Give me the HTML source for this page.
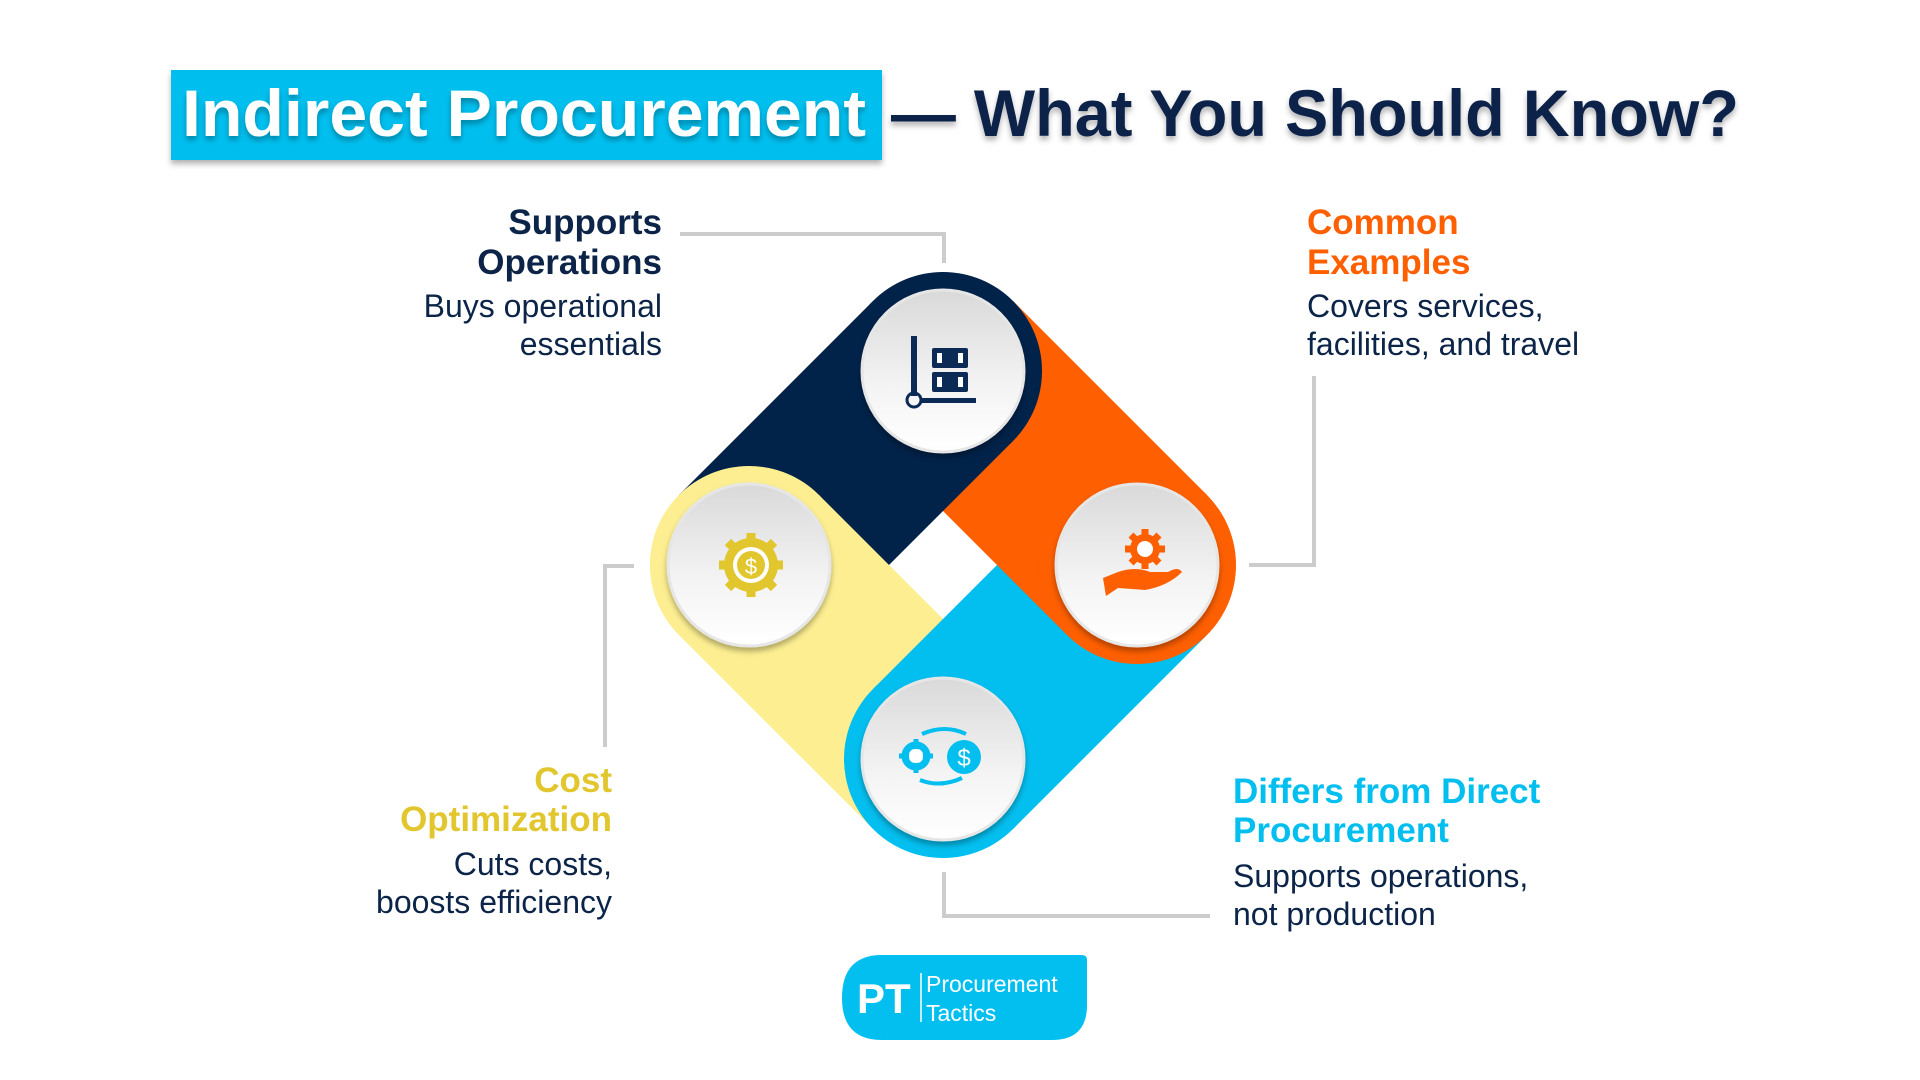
<!DOCTYPE html>
<html><head><meta charset="utf-8"><style>
html,body{margin:0;padding:0;background:#fff;}
svg{display:block;}
text{font-family:"Liberation Sans",sans-serif;}
</style></head><body>
<svg width="1920" height="1080" viewBox="0 0 1920 1080" xmlns="http://www.w3.org/2000/svg">
<defs>
<linearGradient id="cg" x1="0" y1="0" x2="0" y2="1">
<stop offset="0" stop-color="#d9d9d9"/><stop offset="0.6" stop-color="#f4f4f4"/><stop offset="1" stop-color="#ffffff"/>
</linearGradient>
<filter id="sh" x="-10%" y="-10%" width="130%" height="140%"><feDropShadow dx="0" dy="4" stdDeviation="3" flood-color="#000" flood-opacity="0.3"/></filter>
<clipPath id="lc"><polygon points="0,0 1560,0 0,1560"/></clipPath>
</defs>
<rect width="1920" height="1080" fill="#fff"/>
<!-- title -->
<rect x="171" y="70" width="711" height="90" fill="#03bfef" filter="url(#sh)"/>
<text x="182" y="136" font-size="66" font-weight="bold" fill="#fff" textLength="684" lengthAdjust="spacingAndGlyphs" filter="url(#sh)">Indirect Procurement</text>
<text x="891" y="136" font-size="66" font-weight="bold" fill="#0b2448" textLength="848" lengthAdjust="spacingAndGlyphs" filter="url(#sh)">— What You Should Know?</text>

<!-- connectors -->
<g stroke="#cccccc" stroke-width="4" fill="none">
<polyline points="680,234 944,234 944,263"/>
<polyline points="1249,565 1314,565 1314,376"/>
<polyline points="634,566 605,566 605,747"/>
<polyline points="944,872 944,916 1210,916"/>
</g>

<!-- bands -->
<g stroke-width="198" stroke-linecap="butt">
<line x1="749" y1="565" x2="943" y2="759" stroke="#fdef91"/>
<circle cx="749" cy="565" r="99" fill="#fdef91" stroke="none"/>
<line x1="943" y1="759" x2="1137" y2="565" stroke="#03bfef"/>
<circle cx="943" cy="759" r="99" fill="#03bfef" stroke="none"/>
<line x1="1137" y1="565" x2="943" y2="371" stroke="#fe5f00"/>
<circle cx="1137" cy="565" r="99" fill="#fe5f00" stroke="none"/>
<line x1="943" y1="371" x2="749" y2="565" stroke="#012249"/>
<circle cx="943" cy="371" r="99" fill="#012249" stroke="none"/>
<g clip-path="url(#lc)">
<line x1="749" y1="565" x2="943" y2="759" stroke="#fdef91"/>
<circle cx="749" cy="565" r="99" fill="#fdef91" stroke="none"/>
</g>
</g>
<g filter="url(#sh)">
<circle cx="943" cy="371" r="81" fill="url(#cg)" stroke="#e6e6e6" stroke-width="3"/>
<circle cx="1137" cy="565" r="81" fill="url(#cg)" stroke="#e6e6e6" stroke-width="3"/>
<circle cx="943" cy="759" r="81" fill="url(#cg)" stroke="#e6e6e6" stroke-width="3"/>
<circle cx="749" cy="565" r="81" fill="url(#cg)" stroke="#e6e6e6" stroke-width="3"/>
</g>

<!-- icons -->
<g fill="#0b2a55">
<rect x="911" y="336" width="6" height="60"/>
<circle cx="914" cy="400" r="7" fill="none" stroke="#0b2a55" stroke-width="3"/>
<rect x="920" y="398" width="56" height="5"/>
<rect x="932" y="348" width="36" height="20" rx="2"/>
<rect x="932" y="372" width="36" height="20" rx="2"/>
</g>
<g fill="#fff"><rect x="937" y="353" width="5" height="10"/><rect x="958" y="353" width="5" height="10"/><rect x="937" y="377" width="5" height="10"/><rect x="958" y="377" width="5" height="10"/></g>

<g fill="#fe5f00">
<circle cx="1145" cy="549" r="15"/>
<g stroke="#fe5f00" stroke-width="7"><line x1="1145" y1="529" x2="1145" y2="569"/><line x1="1125" y1="549" x2="1165" y2="549"/><line x1="1131" y1="535" x2="1159" y2="563"/><line x1="1159" y1="535" x2="1131" y2="563"/></g>
<circle cx="1145" cy="549" r="8" fill="#fff"/>
<path d="M1103,578 L1118,572 Q1135,566 1150,572 L1168,572 Q1178,566 1182,572 Q1168,586 1145,590 L1118,588 L1106,596 Z"/>
</g>

<g>
<circle cx="751" cy="565" r="27" fill="#e2c62e"/>
<g stroke="#e2c62e" stroke-width="9"><line x1="751" y1="533" x2="751" y2="597"/><line x1="719" y1="565" x2="783" y2="565"/><line x1="728" y1="542" x2="774" y2="588"/><line x1="774" y1="542" x2="728" y2="588"/></g>
<circle cx="751" cy="565" r="18" fill="#fff"/>
<circle cx="751" cy="565" r="14" fill="#e2c62e"/>
<text x="751" y="574" font-size="22" text-anchor="middle" fill="#fff">$</text>
</g>

<g>
<circle cx="916" cy="756" r="11" fill="none" stroke="#03bfef" stroke-width="7"/>
<g stroke="#03bfef" stroke-width="5"><line x1="916" y1="739" x2="916" y2="773"/><line x1="899" y1="756" x2="933" y2="756"/></g>
<circle cx="916" cy="756" r="7" fill="#fff"/>
<circle cx="964" cy="757" r="17" fill="#03bfef"/>
<text x="964" y="766" font-size="24" text-anchor="middle" fill="#fff">$</text>
<path d="M922,734 Q945,724 966,734" fill="none" stroke="#03bfef" stroke-width="4"/>
<path d="M962,778 Q940,788 920,780" fill="none" stroke="#03bfef" stroke-width="4"/>
</g>

<!-- labels -->
<g font-size="35" font-weight="bold">
<text x="662" y="234" text-anchor="end" fill="#0b2448">Supports</text>
<text x="662" y="274" text-anchor="end" fill="#0b2448">Operations</text>
<text x="1307" y="234" fill="#fe5f00">Common</text>
<text x="1307" y="274" fill="#fe5f00">Examples</text>
<text x="612" y="792" text-anchor="end" fill="#e2c62e">Cost</text>
<text x="612" y="831" text-anchor="end" fill="#e2c62e">Optimization</text>
<text x="1233" y="803" fill="#03bfef">Differs from Direct</text>
<text x="1233" y="842" fill="#03bfef">Procurement</text>
</g>
<g font-size="32" fill="#0b2448">
<text x="662" y="317" text-anchor="end">Buys operational</text>
<text x="662" y="355" text-anchor="end">essentials</text>
<text x="1307" y="317">Covers services,</text>
<text x="1307" y="355">facilities, and travel</text>
<text x="612" y="875" text-anchor="end">Cuts costs,</text>
<text x="612" y="913" text-anchor="end">boosts efficiency</text>
<text x="1233" y="887">Supports operations,</text>
<text x="1233" y="925">not production</text>
</g>

<!-- logo -->
<path d="M882,955 L1082,955 Q1087,955 1087,960 L1087,1005 Q1087,1040 1052,1040 L882,1040 Q842,1040 842,998 Q842,955 882,955 Z" fill="#03bfef"/>
<text x="857" y="1013" font-size="42" font-weight="bold" fill="#fff">PT</text>
<line x1="921" y1="973" x2="921" y2="1022" stroke="#fff" stroke-width="1.5"/>
<text x="926" y="992" font-size="23" fill="#fff">Procurement</text>
<text x="926" y="1021" font-size="23" fill="#fff">Tactics</text>
</svg>
</body></html>
